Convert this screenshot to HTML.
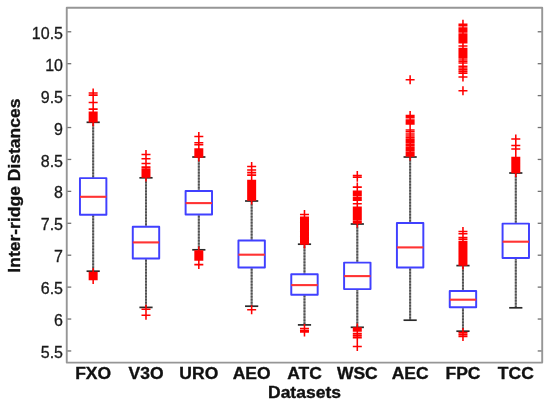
<!DOCTYPE html>
<html><head><meta charset="utf-8"><style>
html,body{margin:0;padding:0;background:#fff;width:550px;height:405px;overflow:hidden}
svg{display:block;filter:blur(0.3px)}
.tl{font-family:"Liberation Sans",Arial,sans-serif;font-size:16px;fill:#1a1a1a;stroke:#1a1a1a;stroke-width:0.3}
.xl,.al{font-family:"Liberation Sans",Arial,sans-serif;font-size:17px;font-weight:bold;fill:#111;stroke:#111;stroke-width:0.35}
.wh0{stroke:#9a9a9a;stroke-width:2}
.wh{stroke:#3a3a3a;stroke-width:2;stroke-dasharray:0.75 0.75}
.cap{stroke:#2a2a2a;stroke-width:1.7}
.bx{fill:none;stroke:#4040ff;stroke-width:1.95;stroke-linejoin:round}
.md{stroke:#ff3333;stroke-width:2.1}
.ol{stroke:#ff0000;stroke-width:1.55;fill:none}
</style></head><body>
<svg width="550" height="405" viewBox="0 0 550 405">
<rect x="0" y="0" width="550" height="405" fill="#fff"/>
<line x1="66.75" y1="350.96" x2="71.25" y2="350.96" stroke="#707070" stroke-width="1.3"/>
<line x1="542.2" y1="350.96" x2="537.7" y2="350.96" stroke="#707070" stroke-width="1.3"/>
<text x="63" y="358.06" text-anchor="end" class="tl">5.5</text>
<line x1="66.75" y1="319.04" x2="71.25" y2="319.04" stroke="#707070" stroke-width="1.3"/>
<line x1="542.2" y1="319.04" x2="537.7" y2="319.04" stroke="#707070" stroke-width="1.3"/>
<text x="63" y="326.14" text-anchor="end" class="tl">6</text>
<line x1="66.75" y1="287.12" x2="71.25" y2="287.12" stroke="#707070" stroke-width="1.3"/>
<line x1="542.2" y1="287.12" x2="537.7" y2="287.12" stroke="#707070" stroke-width="1.3"/>
<text x="63" y="294.22" text-anchor="end" class="tl">6.5</text>
<line x1="66.75" y1="255.20" x2="71.25" y2="255.20" stroke="#707070" stroke-width="1.3"/>
<line x1="542.2" y1="255.20" x2="537.7" y2="255.20" stroke="#707070" stroke-width="1.3"/>
<text x="63" y="262.30" text-anchor="end" class="tl">7</text>
<line x1="66.75" y1="223.29" x2="71.25" y2="223.29" stroke="#707070" stroke-width="1.3"/>
<line x1="542.2" y1="223.29" x2="537.7" y2="223.29" stroke="#707070" stroke-width="1.3"/>
<text x="63" y="230.39" text-anchor="end" class="tl">7.5</text>
<line x1="66.75" y1="191.37" x2="71.25" y2="191.37" stroke="#707070" stroke-width="1.3"/>
<line x1="542.2" y1="191.37" x2="537.7" y2="191.37" stroke="#707070" stroke-width="1.3"/>
<text x="63" y="198.47" text-anchor="end" class="tl">8</text>
<line x1="66.75" y1="159.45" x2="71.25" y2="159.45" stroke="#707070" stroke-width="1.3"/>
<line x1="542.2" y1="159.45" x2="537.7" y2="159.45" stroke="#707070" stroke-width="1.3"/>
<text x="63" y="166.55" text-anchor="end" class="tl">8.5</text>
<line x1="66.75" y1="127.53" x2="71.25" y2="127.53" stroke="#707070" stroke-width="1.3"/>
<line x1="542.2" y1="127.53" x2="537.7" y2="127.53" stroke="#707070" stroke-width="1.3"/>
<text x="63" y="134.63" text-anchor="end" class="tl">9</text>
<line x1="66.75" y1="95.61" x2="71.25" y2="95.61" stroke="#707070" stroke-width="1.3"/>
<line x1="542.2" y1="95.61" x2="537.7" y2="95.61" stroke="#707070" stroke-width="1.3"/>
<text x="63" y="102.71" text-anchor="end" class="tl">9.5</text>
<line x1="66.75" y1="63.69" x2="71.25" y2="63.69" stroke="#707070" stroke-width="1.3"/>
<line x1="542.2" y1="63.69" x2="537.7" y2="63.69" stroke="#707070" stroke-width="1.3"/>
<text x="63" y="70.79" text-anchor="end" class="tl">10</text>
<line x1="66.75" y1="31.77" x2="71.25" y2="31.77" stroke="#707070" stroke-width="1.3"/>
<line x1="542.2" y1="31.77" x2="537.7" y2="31.77" stroke="#707070" stroke-width="1.3"/>
<text x="63" y="38.87" text-anchor="end" class="tl">10.5</text>
<line x1="93.16" y1="122.3" x2="93.16" y2="178.1" class="wh0"/>
<line x1="93.16" y1="214.7" x2="93.16" y2="271.2" class="wh0"/>
<line x1="93.16" y1="122.3" x2="93.16" y2="178.1" class="wh"/>
<line x1="93.16" y1="214.7" x2="93.16" y2="271.2" class="wh"/>
<line x1="86.56" y1="122.3" x2="99.77" y2="122.3" class="cap"/>
<line x1="86.56" y1="271.2" x2="99.77" y2="271.2" class="cap"/>
<rect x="79.96" y="178.1" width="26.41" height="36.60" class="bx"/>
<line x1="79.96" y1="196.8" x2="106.37" y2="196.8" class="md"/>
<path d="M88.66 92.90h9.0M93.16 88.40v9.0M88.66 95.10h9.0M93.16 90.60v9.0M88.66 102.50h9.0M93.16 98.00v9.0M88.66 109.10h9.0M93.16 104.60v9.0M88.66 112.30h9.0M93.16 107.80v9.0M88.66 113.47h9.0M93.16 108.97v9.0M88.66 114.65h9.0M93.16 110.15v9.0M88.66 115.83h9.0M93.16 111.33v9.0M88.66 117.00h9.0M93.16 112.50v9.0M88.66 118.17h9.0M93.16 113.67v9.0M88.66 119.35h9.0M93.16 114.85v9.0M88.66 120.53h9.0M93.16 116.03v9.0M88.66 121.70h9.0M93.16 117.20v9.0M88.66 272.50h9.0M93.16 268.00v9.0M88.66 273.67h9.0M93.16 269.17v9.0M88.66 274.83h9.0M93.16 270.33v9.0M88.66 276.00h9.0M93.16 271.50v9.0M88.66 277.17h9.0M93.16 272.67v9.0M88.66 278.33h9.0M93.16 273.83v9.0M88.66 279.50h9.0M93.16 275.00v9.0" class="ol"/>
<text transform="translate(93.16,378.6) scale(1.03,1)" text-anchor="middle" class="xl">FXO</text>
<line x1="145.99" y1="177.8" x2="145.99" y2="226.7" class="wh0"/>
<line x1="145.99" y1="258.5" x2="145.99" y2="307.4" class="wh0"/>
<line x1="145.99" y1="177.8" x2="145.99" y2="226.7" class="wh"/>
<line x1="145.99" y1="258.5" x2="145.99" y2="307.4" class="wh"/>
<line x1="139.39" y1="177.8" x2="152.60" y2="177.8" class="cap"/>
<line x1="139.39" y1="307.4" x2="152.60" y2="307.4" class="cap"/>
<rect x="132.78" y="226.7" width="26.41" height="31.80" class="bx"/>
<line x1="132.78" y1="242.4" x2="159.20" y2="242.4" class="md"/>
<path d="M141.49 154.50h9.0M145.99 150.00v9.0M141.49 158.80h9.0M145.99 154.30v9.0M141.49 163.40h9.0M145.99 158.90v9.0M141.49 167.10h9.0M145.99 162.60v9.0M141.49 169.00h9.0M145.99 164.50v9.0M141.49 170.14h9.0M145.99 165.64v9.0M141.49 171.29h9.0M145.99 166.79v9.0M141.49 172.43h9.0M145.99 167.93v9.0M141.49 173.57h9.0M145.99 169.07v9.0M141.49 174.71h9.0M145.99 170.21v9.0M141.49 175.86h9.0M145.99 171.36v9.0M141.49 177.00h9.0M145.99 172.50v9.0M141.49 309.30h9.0M145.99 304.80v9.0M141.49 315.30h9.0M145.99 310.80v9.0" class="ol"/>
<text transform="translate(145.99,378.6) scale(1.03,1)" text-anchor="middle" class="xl">V3O</text>
<line x1="198.82" y1="157.0" x2="198.82" y2="191.0" class="wh0"/>
<line x1="198.82" y1="214.5" x2="198.82" y2="249.8" class="wh0"/>
<line x1="198.82" y1="157.0" x2="198.82" y2="191.0" class="wh"/>
<line x1="198.82" y1="214.5" x2="198.82" y2="249.8" class="wh"/>
<line x1="192.22" y1="157.0" x2="205.42" y2="157.0" class="cap"/>
<line x1="192.22" y1="249.8" x2="205.42" y2="249.8" class="cap"/>
<rect x="185.61" y="191.0" width="26.41" height="23.50" class="bx"/>
<line x1="185.61" y1="203.1" x2="212.03" y2="203.1" class="md"/>
<path d="M194.32 136.40h9.0M198.82 131.90v9.0M194.32 142.70h9.0M198.82 138.20v9.0M194.32 144.80h9.0M198.82 140.30v9.0M194.32 149.00h9.0M198.82 144.50v9.0M194.32 150.14h9.0M198.82 145.64v9.0M194.32 151.29h9.0M198.82 146.79v9.0M194.32 152.43h9.0M198.82 147.93v9.0M194.32 153.57h9.0M198.82 149.07v9.0M194.32 154.71h9.0M198.82 150.21v9.0M194.32 155.86h9.0M198.82 151.36v9.0M194.32 157.00h9.0M198.82 152.50v9.0M194.32 251.00h9.0M198.82 246.50v9.0M194.32 252.12h9.0M198.82 247.62v9.0M194.32 253.25h9.0M198.82 248.75v9.0M194.32 254.38h9.0M198.82 249.88v9.0M194.32 255.50h9.0M198.82 251.00v9.0M194.32 256.62h9.0M198.82 252.12v9.0M194.32 257.75h9.0M198.82 253.25v9.0M194.32 258.88h9.0M198.82 254.38v9.0M194.32 260.00h9.0M198.82 255.50v9.0M194.32 264.60h9.0M198.82 260.10v9.0" class="ol"/>
<text transform="translate(198.82,378.6) scale(1.03,1)" text-anchor="middle" class="xl">URO</text>
<line x1="251.65" y1="201.0" x2="251.65" y2="240.5" class="wh0"/>
<line x1="251.65" y1="267.5" x2="251.65" y2="306.2" class="wh0"/>
<line x1="251.65" y1="201.0" x2="251.65" y2="240.5" class="wh"/>
<line x1="251.65" y1="267.5" x2="251.65" y2="306.2" class="wh"/>
<line x1="245.04" y1="201.0" x2="258.25" y2="201.0" class="cap"/>
<line x1="245.04" y1="306.2" x2="258.25" y2="306.2" class="cap"/>
<rect x="238.44" y="240.5" width="26.41" height="27.00" class="bx"/>
<line x1="238.44" y1="254.7" x2="264.85" y2="254.7" class="md"/>
<path d="M247.15 166.50h9.0M251.65 162.00v9.0M247.15 169.90h9.0M251.65 165.40v9.0M247.15 172.60h9.0M251.65 168.10v9.0M247.15 175.10h9.0M251.65 170.60v9.0M247.15 180.50h9.0M251.65 176.00v9.0M247.15 182.00h9.0M251.65 177.50v9.0M247.15 183.50h9.0M251.65 179.00v9.0M247.15 185.00h9.0M251.65 180.50v9.0M247.15 186.50h9.0M251.65 182.00v9.0M247.15 188.00h9.0M251.65 183.50v9.0M247.15 189.50h9.0M251.65 185.00v9.0M247.15 191.00h9.0M251.65 186.50v9.0M247.15 192.50h9.0M251.65 188.00v9.0M247.15 194.00h9.0M251.65 189.50v9.0M247.15 195.50h9.0M251.65 191.00v9.0M247.15 197.00h9.0M251.65 192.50v9.0M247.15 198.50h9.0M251.65 194.00v9.0M247.15 200.00h9.0M251.65 195.50v9.0M247.15 309.70h9.0M251.65 305.20v9.0" class="ol"/>
<text transform="translate(251.65,378.6) scale(1.03,1)" text-anchor="middle" class="xl">AEO</text>
<line x1="304.48" y1="244.2" x2="304.48" y2="274.2" class="wh0"/>
<line x1="304.48" y1="294.8" x2="304.48" y2="324.9" class="wh0"/>
<line x1="304.48" y1="244.2" x2="304.48" y2="274.2" class="wh"/>
<line x1="304.48" y1="294.8" x2="304.48" y2="324.9" class="wh"/>
<line x1="297.87" y1="244.2" x2="311.08" y2="244.2" class="cap"/>
<line x1="297.87" y1="324.9" x2="311.08" y2="324.9" class="cap"/>
<rect x="291.27" y="274.2" width="26.41" height="20.60" class="bx"/>
<line x1="291.27" y1="285.1" x2="317.68" y2="285.1" class="md"/>
<path d="M299.98 214.40h9.0M304.48 209.90v9.0M299.98 217.30h9.0M304.48 212.80v9.0M299.98 218.53h9.0M304.48 214.03v9.0M299.98 219.77h9.0M304.48 215.27v9.0M299.98 221.00h9.0M304.48 216.50v9.0M299.98 222.60h9.0M304.48 218.10v9.0M299.98 223.86h9.0M304.48 219.36v9.0M299.98 225.12h9.0M304.48 220.62v9.0M299.98 226.38h9.0M304.48 221.88v9.0M299.98 227.64h9.0M304.48 223.14v9.0M299.98 228.89h9.0M304.48 224.39v9.0M299.98 230.15h9.0M304.48 225.65v9.0M299.98 231.41h9.0M304.48 226.91v9.0M299.98 232.67h9.0M304.48 228.17v9.0M299.98 233.93h9.0M304.48 229.43v9.0M299.98 235.19h9.0M304.48 230.69v9.0M299.98 236.45h9.0M304.48 231.95v9.0M299.98 237.71h9.0M304.48 233.21v9.0M299.98 238.96h9.0M304.48 234.46v9.0M299.98 240.22h9.0M304.48 235.72v9.0M299.98 241.48h9.0M304.48 236.98v9.0M299.98 242.74h9.0M304.48 238.24v9.0M299.98 244.00h9.0M304.48 239.50v9.0M299.98 328.50h9.0M304.48 324.00v9.0M299.98 330.50h9.0M304.48 326.00v9.0M299.98 332.00h9.0M304.48 327.50v9.0" class="ol"/>
<text transform="translate(304.48,378.6) scale(1.03,1)" text-anchor="middle" class="xl">ATC</text>
<line x1="357.30" y1="224.0" x2="357.30" y2="262.6" class="wh0"/>
<line x1="357.30" y1="289.1" x2="357.30" y2="327.3" class="wh0"/>
<line x1="357.30" y1="224.0" x2="357.30" y2="262.6" class="wh"/>
<line x1="357.30" y1="289.1" x2="357.30" y2="327.3" class="wh"/>
<line x1="350.70" y1="224.0" x2="363.91" y2="224.0" class="cap"/>
<line x1="350.70" y1="327.3" x2="363.91" y2="327.3" class="cap"/>
<rect x="344.10" y="262.6" width="26.41" height="26.50" class="bx"/>
<line x1="344.10" y1="276.1" x2="370.51" y2="276.1" class="md"/>
<path d="M352.80 175.40h9.0M357.30 170.90v9.0M352.80 177.30h9.0M357.30 172.80v9.0M352.80 187.10h9.0M357.30 182.60v9.0M352.80 191.20h9.0M357.30 186.70v9.0M352.80 192.20h9.0M357.30 187.70v9.0M352.80 193.20h9.0M357.30 188.70v9.0M352.80 194.20h9.0M357.30 189.70v9.0M352.80 195.20h9.0M357.30 190.70v9.0M352.80 197.30h9.0M357.30 192.80v9.0M352.80 198.30h9.0M357.30 193.80v9.0M352.80 199.30h9.0M357.30 194.80v9.0M352.80 200.30h9.0M357.30 195.80v9.0M352.80 203.70h9.0M357.30 199.20v9.0M352.80 207.20h9.0M357.30 202.70v9.0M352.80 208.78h9.0M357.30 204.28v9.0M352.80 210.36h9.0M357.30 205.86v9.0M352.80 211.94h9.0M357.30 207.44v9.0M352.80 213.52h9.0M357.30 209.02v9.0M352.80 215.10h9.0M357.30 210.60v9.0M352.80 216.68h9.0M357.30 212.18v9.0M352.80 218.26h9.0M357.30 213.76v9.0M352.80 219.84h9.0M357.30 215.34v9.0M352.80 221.42h9.0M357.30 216.92v9.0M352.80 223.00h9.0M357.30 218.50v9.0M352.80 328.00h9.0M357.30 323.50v9.0M352.80 329.00h9.0M357.30 324.50v9.0M352.80 330.00h9.0M357.30 325.50v9.0M352.80 331.00h9.0M357.30 326.50v9.0M352.80 333.60h9.0M357.30 329.10v9.0M352.80 335.60h9.0M357.30 331.10v9.0M352.80 337.60h9.0M357.30 333.10v9.0M352.80 346.40h9.0M357.30 341.90v9.0" class="ol"/>
<text transform="translate(357.30,378.6) scale(1.03,1)" text-anchor="middle" class="xl">WSC</text>
<line x1="410.13" y1="157.0" x2="410.13" y2="223.0" class="wh0"/>
<line x1="410.13" y1="267.5" x2="410.13" y2="320.2" class="wh0"/>
<line x1="410.13" y1="157.0" x2="410.13" y2="223.0" class="wh"/>
<line x1="410.13" y1="267.5" x2="410.13" y2="320.2" class="wh"/>
<line x1="403.53" y1="157.0" x2="416.73" y2="157.0" class="cap"/>
<line x1="403.53" y1="320.2" x2="416.73" y2="320.2" class="cap"/>
<rect x="396.92" y="223.0" width="26.41" height="44.50" class="bx"/>
<line x1="396.92" y1="247.4" x2="423.34" y2="247.4" class="md"/>
<path d="M405.63 79.80h9.0M410.13 75.30v9.0M405.63 115.40h9.0M410.13 110.90v9.0M405.63 116.60h9.0M410.13 112.10v9.0M405.63 117.80h9.0M410.13 113.30v9.0M405.63 119.90h9.0M410.13 115.40v9.0M405.63 121.20h9.0M410.13 116.70v9.0M405.63 122.40h9.0M410.13 117.90v9.0M405.63 123.90h9.0M410.13 119.40v9.0M405.63 130.00h9.0M410.13 125.50v9.0M405.63 131.80h9.0M410.13 127.30v9.0M405.63 133.90h9.0M410.13 129.40v9.0M405.63 135.90h9.0M410.13 131.40v9.0M405.63 137.80h9.0M410.13 133.30v9.0M405.63 139.45h9.0M410.13 134.95v9.0M405.63 141.11h9.0M410.13 136.61v9.0M405.63 142.76h9.0M410.13 138.26v9.0M405.63 144.42h9.0M410.13 139.92v9.0M405.63 146.07h9.0M410.13 141.57v9.0M405.63 147.73h9.0M410.13 143.23v9.0M405.63 149.38h9.0M410.13 144.88v9.0M405.63 151.04h9.0M410.13 146.54v9.0M405.63 152.69h9.0M410.13 148.19v9.0M405.63 154.35h9.0M410.13 149.85v9.0M405.63 156.00h9.0M410.13 151.50v9.0" class="ol"/>
<text transform="translate(410.13,378.6) scale(1.03,1)" text-anchor="middle" class="xl">AEC</text>
<line x1="462.96" y1="265.6" x2="462.96" y2="291.0" class="wh0"/>
<line x1="462.96" y1="307.3" x2="462.96" y2="331.2" class="wh0"/>
<line x1="462.96" y1="265.6" x2="462.96" y2="291.0" class="wh"/>
<line x1="462.96" y1="307.3" x2="462.96" y2="331.2" class="wh"/>
<line x1="456.35" y1="265.6" x2="469.56" y2="265.6" class="cap"/>
<line x1="456.35" y1="331.2" x2="469.56" y2="331.2" class="cap"/>
<rect x="449.75" y="291.0" width="26.41" height="16.30" class="bx"/>
<line x1="449.75" y1="299.7" x2="476.17" y2="299.7" class="md"/>
<path d="M458.46 24.20h9.0M462.96 19.70v9.0M458.46 25.60h9.0M462.96 21.10v9.0M458.46 27.90h9.0M462.96 23.40v9.0M458.46 29.23h9.0M462.96 24.73v9.0M458.46 30.57h9.0M462.96 26.07v9.0M458.46 31.90h9.0M462.96 27.40v9.0M458.46 34.10h9.0M462.96 29.60v9.0M458.46 35.55h9.0M462.96 31.05v9.0M458.46 37.00h9.0M462.96 32.50v9.0M458.46 38.45h9.0M462.96 33.95v9.0M458.46 39.90h9.0M462.96 35.40v9.0M458.46 41.35h9.0M462.96 36.85v9.0M458.46 42.80h9.0M462.96 38.30v9.0M458.46 45.90h9.0M462.96 41.40v9.0M458.46 48.60h9.0M462.96 44.10v9.0M458.46 50.03h9.0M462.96 45.53v9.0M458.46 51.47h9.0M462.96 46.97v9.0M458.46 52.90h9.0M462.96 48.40v9.0M458.46 54.33h9.0M462.96 49.83v9.0M458.46 55.77h9.0M462.96 51.27v9.0M458.46 57.20h9.0M462.96 52.70v9.0M458.46 59.00h9.0M462.96 54.50v9.0M458.46 61.10h9.0M462.96 56.60v9.0M458.46 62.90h9.0M462.96 58.40v9.0M458.46 66.20h9.0M462.96 61.70v9.0M458.46 67.95h9.0M462.96 63.45v9.0M458.46 69.70h9.0M462.96 65.20v9.0M458.46 71.45h9.0M462.96 66.95v9.0M458.46 73.20h9.0M462.96 68.70v9.0M458.46 77.00h9.0M462.96 72.50v9.0M458.46 90.70h9.0M462.96 86.20v9.0M458.46 231.50h9.0M462.96 227.00v9.0M458.46 233.80h9.0M462.96 229.30v9.0M458.46 237.40h9.0M462.96 232.90v9.0M458.46 239.20h9.0M462.96 234.70v9.0M458.46 241.50h9.0M462.96 237.00v9.0M458.46 242.68h9.0M462.96 238.18v9.0M458.46 243.85h9.0M462.96 239.35v9.0M458.46 245.03h9.0M462.96 240.53v9.0M458.46 246.20h9.0M462.96 241.70v9.0M458.46 247.38h9.0M462.96 242.88v9.0M458.46 248.55h9.0M462.96 244.05v9.0M458.46 249.72h9.0M462.96 245.22v9.0M458.46 250.90h9.0M462.96 246.40v9.0M458.46 252.07h9.0M462.96 247.57v9.0M458.46 253.25h9.0M462.96 248.75v9.0M458.46 254.43h9.0M462.96 249.93v9.0M458.46 255.60h9.0M462.96 251.10v9.0M458.46 256.77h9.0M462.96 252.27v9.0M458.46 257.95h9.0M462.96 253.45v9.0M458.46 259.12h9.0M462.96 254.62v9.0M458.46 260.30h9.0M462.96 255.80v9.0M458.46 261.48h9.0M462.96 256.98v9.0M458.46 262.65h9.0M462.96 258.15v9.0M458.46 263.82h9.0M462.96 259.32v9.0M458.46 265.00h9.0M462.96 260.50v9.0M458.46 332.60h9.0M462.96 328.10v9.0M458.46 334.60h9.0M462.96 330.10v9.0M458.46 336.50h9.0M462.96 332.00v9.0" class="ol"/>
<text transform="translate(462.96,378.6) scale(1.03,1)" text-anchor="middle" class="xl">FPC</text>
<line x1="515.79" y1="173.0" x2="515.79" y2="223.6" class="wh0"/>
<line x1="515.79" y1="258.0" x2="515.79" y2="307.8" class="wh0"/>
<line x1="515.79" y1="173.0" x2="515.79" y2="223.6" class="wh"/>
<line x1="515.79" y1="258.0" x2="515.79" y2="307.8" class="wh"/>
<line x1="509.18" y1="173.0" x2="522.39" y2="173.0" class="cap"/>
<line x1="509.18" y1="307.8" x2="522.39" y2="307.8" class="cap"/>
<rect x="502.58" y="223.6" width="26.41" height="34.40" class="bx"/>
<line x1="502.58" y1="241.7" x2="528.99" y2="241.7" class="md"/>
<path d="M511.29 138.90h9.0M515.79 134.40v9.0M511.29 145.40h9.0M515.79 140.90v9.0M511.29 149.00h9.0M515.79 144.50v9.0M511.29 157.50h9.0M515.79 153.00v9.0M511.29 159.00h9.0M515.79 154.50v9.0M511.29 160.50h9.0M515.79 156.00v9.0M511.29 162.00h9.0M515.79 157.50v9.0M511.29 163.50h9.0M515.79 159.00v9.0M511.29 165.00h9.0M515.79 160.50v9.0M511.29 166.50h9.0M515.79 162.00v9.0M511.29 168.00h9.0M515.79 163.50v9.0M511.29 169.50h9.0M515.79 165.00v9.0M511.29 171.00h9.0M515.79 166.50v9.0M511.29 172.50h9.0M515.79 168.00v9.0" class="ol"/>
<text transform="translate(515.79,378.6) scale(1.03,1)" text-anchor="middle" class="xl">TCC</text>
<rect x="66.75" y="7.8" width="475.45000000000005" height="354.8" fill="none" stroke="#969696" stroke-width="1.9" stroke-linejoin="round"/>
<text transform="translate(304.48,397.5) scale(1.03,1)" text-anchor="middle" class="al">Datasets</text>
<text transform="translate(20.1,185.6) rotate(-90) scale(1.03,1)" text-anchor="middle" class="al">Inter-ridge Distances</text>
</svg>
</body></html>
